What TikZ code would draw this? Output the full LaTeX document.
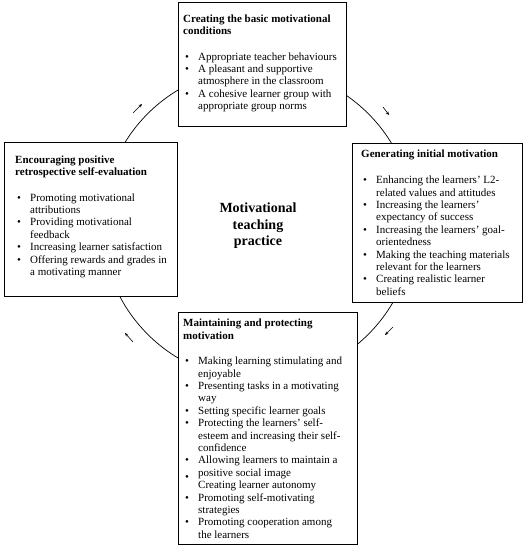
\documentclass[tikz,border=0pt]{standalone}
\usepackage{fontspec}
\setmainfont{Liberation Serif}
\usetikzlibrary{arrows.meta}
\newcommand{\bl}[1]{\makebox[15pt][l]{\hspace{2pt}\textbullet}#1}
\newcommand{\blup}[1]{\makebox[15pt][l]{\hspace{2pt}\raisebox{8pt}[0pt][0pt]{\textbullet}}#1}
\newcommand{\cl}[1]{\hspace*{15pt}#1}
\begin{document}
\begin{tikzpicture}[x=1pt,y=-1pt,
  frame/.style={draw=black, line width=0.9pt, fill=white, inner sep=0pt, anchor=north west},
  txt/.style={inner sep=0pt, anchor=north west, align=left, font=\fontsize{11}{12.4}\selectfont},
  ring/.style={draw=black, line width=0.7pt},
  cue/.style={draw=black, line width=0.6pt, -{Stealth[length=3.5pt,width=3pt]}},
  title/.style={inner sep=0pt, align=center, font=\fontsize{14}{16.4}\selectfont\bfseries}
]
\useasboundingbox (0,0) rectangle (524,554);
\fill[white] (0,0) rectangle (524,554);

% cycle ring
\node[ring, circle, minimum size=312pt, inner sep=0pt] (ring) at (258,224) {};

% boxes
\node[frame, minimum width=168pt, minimum height=124pt] (cb) at (178,2) {};
\node[frame, minimum width=170pt, minimum height=159pt] (gi) at (352,143) {};
\node[frame, minimum width=179pt, minimum height=232pt] (mp) at (178,312) {};
\node[frame, minimum width=173pt, minimum height=154pt] (ep) at (4,142) {};

% texts
\node[txt] (cbt) at (183,14.5) {\textbf{Creating the basic motivational}\\
\textbf{conditions}\\[13pt]
\bl{Appropriate teacher behaviours}\\
\bl{A pleasant and supportive}\\
\cl{atmosphere in the classroom}\\
\bl{A cohesive learner group with}\\
\cl{appropriate group norms}};

\node[txt] (git) at (361,149.5) {\textbf{Generating initial motivation}\\[14pt]
\bl{Enhancing the learners' L2-}\\
\cl{related values and attitudes}\\
\bl{Increasing the learners'}\\
\cl{expectancy of success}\\
\bl{Increasing the learners' goal-}\\
\cl{orientedness}\\
\bl{Making the teaching materials}\\
\cl{relevant for the learners}\\
\bl{Creating realistic learner}\\
\cl{beliefs}};

\node[txt] (mpt) at (183,319) {\textbf{Maintaining and protecting}\\
\textbf{motivation}\\[13pt]
\bl{Making learning stimulating and}\\
\cl{enjoyable}\\
\bl{Presenting tasks in a motivating}\\
\cl{way}\\
\bl{Setting specific learner goals}\\
\bl{Protecting the learners' self-}\\
\cl{esteem and increasing their self-}\\
\cl{confidence}\\
\bl{Allowing learners to maintain a}\\
\cl{positive social image}\\
\blup{Creating learner autonomy}\\
\bl{Promoting self-motivating}\\
\cl{strategies}\\
\bl{Promoting cooperation among}\\
\cl{the learners}};

\node[txt] (ept) at (15,155.5) {\textbf{Encouraging positive}\\
\textbf{retrospective self-evaluation}\\[13pt]
\bl{Promoting motivational}\\
\cl{attributions}\\
\bl{Providing motivational}\\
\cl{feedback}\\
\bl{Increasing learner satisfaction}\\
\bl{Offering rewards and grades in}\\
\cl{a motivating manner}};

% centre title
\node[title] (mtp) at (258,226) {Motivational\\teaching\\practice};

% direction cues
\coordinate (a1s) at (133,113); \coordinate (a1e) at (142,104);
\coordinate (a2s) at (383,107); \coordinate (a2e) at (389,115);
\coordinate (a3s) at (393,327); \coordinate (a3e) at (385,335);
\coordinate (a4s) at (133,342); \coordinate (a4e) at (125,333);
\draw[cue] (a1s) -- (a1e);
\draw[cue] (a2s) -- (a2e);
\draw[cue] (a3s) -- (a3e);
\draw[cue] (a4s) -- (a4e);
\end{tikzpicture}
\end{document}
